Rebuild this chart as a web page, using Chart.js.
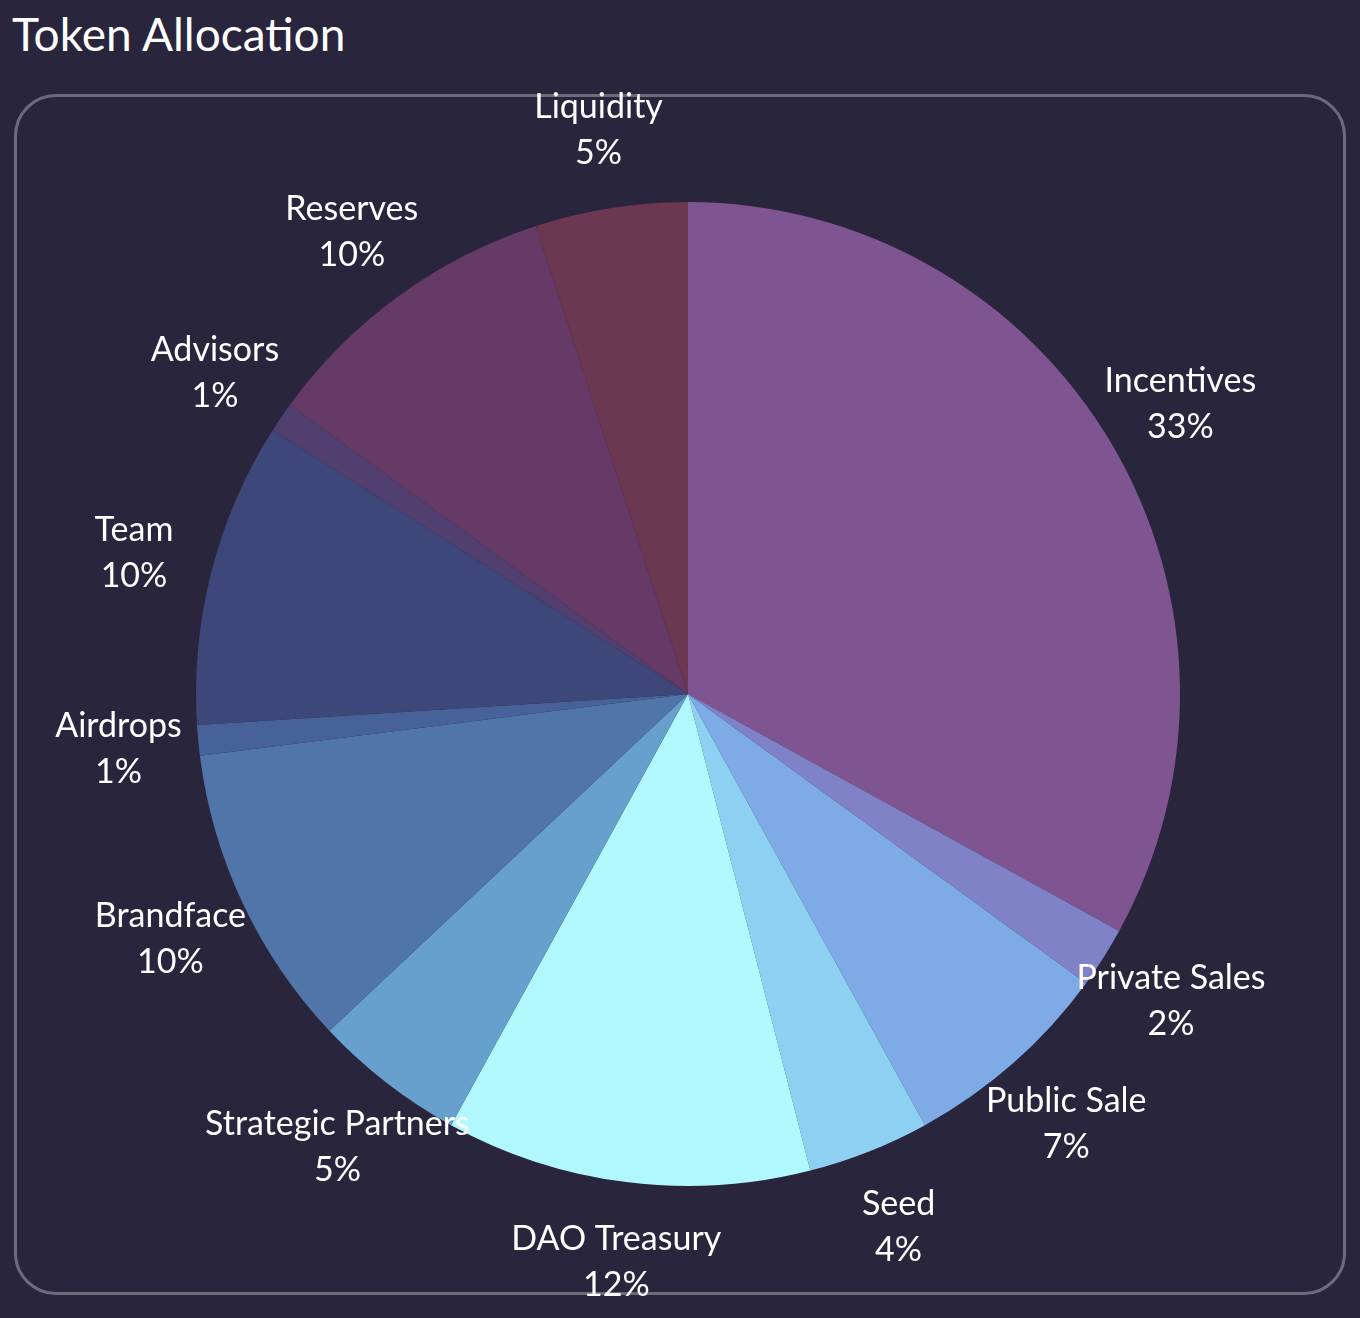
<!DOCTYPE html>
<html>
<head>
<meta charset="utf-8">
<script src="https://cdn.jsdelivr.net/npm/chart.js@4"></script>
<style>
  html, body { margin: 0; padding: 0; background: #28253d; width: 1360px; height: 1318px; overflow: hidden; }
  #title { position: absolute; left: 12px; top: 6px; color: #ffffff; font: 46px Lato, "Open Sans", sans-serif; }
  #frame { position: absolute; left: 14px; top: 94px; width: 1326px; height: 1195px; border: 3px solid #6d6a7c; border-radius: 42px; }
  #wrap { position: absolute; left: 0; top: 0; width: 1360px; height: 1318px; }
</style>
</head>
<body>
<div id="title">Token Allocation</div>
<div id="frame"></div>
<div id="wrap"><canvas id="pie"></canvas></div>
<script>
const labels = ["Incentives", "Private Sales", "Public Sale", "Seed", "DAO Treasury", "Strategic Partners",
  "Brandface", "Airdrops", "Team", "Advisors", "Reserves", "Liquidity"];
const shares = [33, 2, 7, 4, 12, 5, 10, 1, 10, 1, 10, 5];
const colors = ["#7f5591", "#7f82c6", "#7eabe5", "#8dd0f2", "#b0f8fe", "#67a0cd",
  "#5075a9", "#466299", "#3e477a", "#51406f", "#653a66", "#6c3751"];

// labels outside each slice, two lines
const outsideLabels = {
  id: "outsideLabels",
  afterDatasetsDraw(chart) {
    const ctx = chart.ctx;
    const meta = chart.getDatasetMeta(0);
    ctx.save();
    ctx.fillStyle = "#ffffff";
    ctx.font = "34px Lato, 'Open Sans', sans-serif";
    ctx.textAlign = "center";
    ctx.textBaseline = "middle";
    meta.data.forEach((arc, i) => {
      const mid = (arc.startAngle + arc.endAngle) / 2;
      const r = arc.outerRadius + 80;
      const x = arc.x + Math.cos(mid) * r;
      const y = arc.y + Math.sin(mid) * r;
      ctx.fillText(labels[i], x, y - 22);
      ctx.fillText(shares[i] + "%", x, y + 24);
    });
    ctx.restore();
  }
};

new Chart(document.getElementById("pie").getContext("2d"), {
  type: "pie",
  data: {
    labels: labels,
    datasets: [{ data: shares, backgroundColor: colors, borderWidth: 0 }]
  },
  options: {
    responsive: true,
    maintainAspectRatio: false,
    animation: false,
    layout: { padding: { left: 196, right: 180, top: 202, bottom: 132 } },
    plugins: { legend: { display: false }, tooltip: { enabled: false } }
  },
  plugins: [outsideLabels]
});
</script>
</body>
</html>
